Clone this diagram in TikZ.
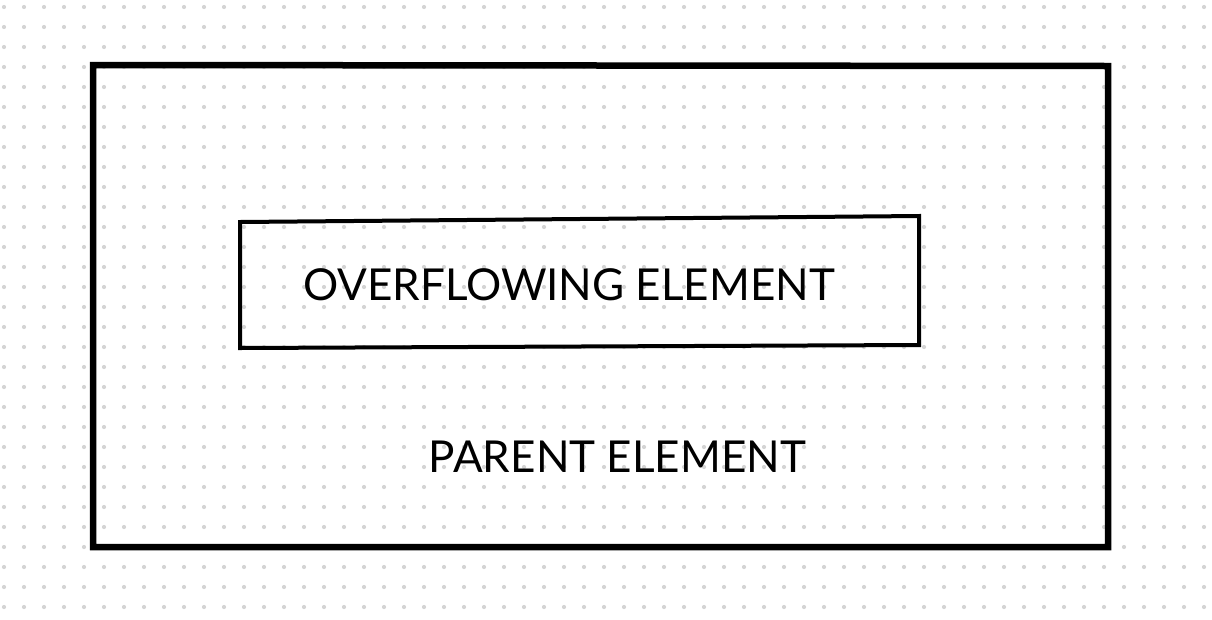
\documentclass[tikz,border=0pt]{standalone}
\usepackage{fontspec}
\setmainfont{Lato}
\tikzset{
  griddot/.style={fill=dotgray},
  outerbox/.style={draw=black, line width=6.5pt, line join=miter},
  innerbox/.style={draw=black, line width=4pt, line join=miter},
  label/.style={font=\fontsize{44}{44}\selectfont, text=black, inner sep=0pt, anchor=base}
}
\definecolor{dotgray}{HTML}{D4D4D4}
\begin{document}
\begin{tikzpicture}[x=1pt,y=-1pt]
\useasboundingbox[fill=white] (0,0) rectangle (1212,619);
\foreach \i in {0,...,60}{
  \foreach \j in {0,...,30}{
    \fill[griddot] ({4+20*\i},{7+20*\j}) circle (2.1);
  }
}
% parent element (outer box)
\coordinate (p1) at (93,65);
\coordinate (p2) at (1108,66);
\coordinate (p3) at (1108,547);
\coordinate (p4) at (93,547);
\draw[outerbox] (p1) -- (p2) -- (p3) -- (p4) -- cycle;
% overflowing element (inner box)
\coordinate (c1) at (240,222);
\coordinate (c2) at (919,216);
\coordinate (c3) at (919,345);
\coordinate (c4) at (240,348);
\draw[innerbox] (c1) -- (c2) -- (c3) -- (c4) -- cycle;
\node[label] (overflow) at (569,300) {OVERFLOWING ELEMENT};
\node[label] (parent) at (617.5,472) {PARENT ELEMENT};
\end{tikzpicture}
\end{document}
